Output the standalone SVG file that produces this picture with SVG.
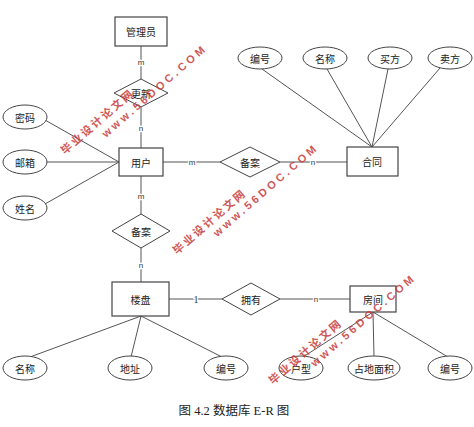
<svg xmlns="http://www.w3.org/2000/svg" width="474" height="427" viewBox="0 0 474 427">
<style>
.ent{fill:#fff;stroke:#444;stroke-width:1.2}
.rel{fill:#fff;stroke:#444;stroke-width:1}
.att{fill:#fff;stroke:#444;stroke-width:1}
.lbl{font-family:"Noto Sans CJK SC","Noto Sans",sans-serif;font-size:10px;fill:#222;text-anchor:middle;dominant-baseline:central}
.card{font-family:"Liberation Sans","DejaVu Sans",sans-serif;font-size:8px;fill:#333;text-anchor:middle;dominant-baseline:central;stroke:#fff;stroke-width:2.5;paint-order:stroke}
.ln{stroke:#555;stroke-width:1;fill:none}
.wm{font-family:"Liberation Sans","Noto Sans CJK SC",sans-serif;font-weight:bold;fill:#c83a3a;opacity:0.85}
.wmc{font-size:11px;letter-spacing:2.3px}
.wme{font-size:11px;letter-spacing:3.2px}
.cap{font-family:"Liberation Serif","Noto Sans CJK SC",serif;font-size:12.5px;fill:#222;text-anchor:middle}
</style>
<rect width="474" height="427" fill="#fff"/>
<g id="connectors">
<line class="ln" x1="141" y1="46" x2="141" y2="79"/>
<line class="ln" x1="141" y1="107" x2="141" y2="148"/>
<line class="ln" x1="45" y1="120" x2="119" y2="162"/>
<line class="ln" x1="47" y1="162" x2="119" y2="162"/>
<line class="ln" x1="45" y1="204" x2="119" y2="162"/>
<line class="ln" x1="163" y1="162" x2="220" y2="162"/>
<line class="ln" x1="280" y1="162" x2="347" y2="162"/>
<line class="ln" x1="262" y1="69" x2="372" y2="147"/>
<line class="ln" x1="327" y1="69" x2="372" y2="147"/>
<line class="ln" x1="388" y1="69" x2="372" y2="147"/>
<line class="ln" x1="440" y1="68" x2="372" y2="147"/>
<line class="ln" x1="141" y1="176" x2="141" y2="214"/>
<line class="ln" x1="141" y1="248" x2="141" y2="282"/>
<line class="ln" x1="169" y1="299" x2="222" y2="299"/>
<line class="ln" x1="280" y1="299" x2="350" y2="299"/>
<line class="ln" x1="141" y1="316" x2="30" y2="357"/>
<line class="ln" x1="141" y1="316" x2="131" y2="357"/>
<line class="ln" x1="141" y1="316" x2="222" y2="357"/>
<line class="ln" x1="373" y1="312" x2="303" y2="357"/>
<line class="ln" x1="373" y1="312" x2="374" y2="357"/>
<line class="ln" x1="373" y1="312" x2="448" y2="357"/>
<text class="card" x="141" y="62">m</text>
<text class="card" x="141" y="128">n</text>
<text class="card" x="192" y="162">m</text>
<text class="card" x="313" y="162">n</text>
<text class="card" x="141" y="196">m</text>
<text class="card" x="141" y="265">n</text>
<text class="card" x="196" y="299" style="font-family:'Liberation Serif',serif;font-size:10px">1</text>
<text class="card" x="316" y="299">n</text>
</g>
<g id="admin"><rect class="ent" x="115" y="17" width="52" height="29"/><text class="lbl" x="141" y="31.5">管理员</text></g>
<g id="update"><polygon class="rel" points="141,79 168,93 141,107 114,93"/><text class="lbl" x="141" y="93">更新</text></g>
<g id="user"><rect class="ent" x="119" y="148" width="44" height="28"/><text class="lbl" x="141" y="162">用户</text></g>
<g id="pwd"><ellipse class="att" cx="25" cy="117" rx="22" ry="12"/><text class="lbl" x="25" y="117">密码</text></g>
<g id="email"><ellipse class="att" cx="25" cy="162" rx="22" ry="12"/><text class="lbl" x="25" y="162">邮箱</text></g>
<g id="uname"><ellipse class="att" cx="25" cy="208" rx="22" ry="12"/><text class="lbl" x="25" y="208">姓名</text></g>
<g id="record1"><polygon class="rel" points="220,162 250,147 280,162 250,177"/><text class="lbl" x="250" y="162">备案</text></g>
<g id="contract"><rect class="ent" x="347" y="147" width="51" height="29"/><text class="lbl" x="372" y="161.5">合同</text></g>
<g id="c_no"><ellipse class="att" cx="260" cy="58" rx="22" ry="11"/><text class="lbl" x="260" y="58">编号</text></g>
<g id="c_name"><ellipse class="att" cx="325" cy="58" rx="22" ry="11"/><text class="lbl" x="325" y="58">名称</text></g>
<g id="c_buyer"><ellipse class="att" cx="390" cy="58" rx="22" ry="11"/><text class="lbl" x="390" y="58">买方</text></g>
<g id="c_seller"><ellipse class="att" cx="450" cy="58" rx="22" ry="11"/><text class="lbl" x="450" y="58">卖方</text></g>
<g id="record2"><polygon class="rel" points="141,214 170,231 141,248 112,231"/><text class="lbl" x="141" y="231">备案</text></g>
<g id="building"><rect class="ent" x="112" y="282" width="57" height="34"/><text class="lbl" x="140.5" y="299">楼盘</text></g>
<g id="own"><polygon class="rel" points="222,299 251,283 280,299 251,315"/><text class="lbl" x="251" y="299">拥有</text></g>
<g id="room"><rect class="ent" x="350" y="286" width="46" height="26"/><text class="lbl" x="373" y="299">房间</text></g>
<g id="b_name"><ellipse class="att" cx="25" cy="368" rx="22" ry="12"/><text class="lbl" x="25" y="368">名称</text></g>
<g id="b_addr"><ellipse class="att" cx="130" cy="368" rx="22" ry="12"/><text class="lbl" x="130" y="368">地址</text></g>
<g id="b_no"><ellipse class="att" cx="226" cy="368" rx="22" ry="12"/><text class="lbl" x="226" y="368">编号</text></g>
<g id="r_type"><ellipse class="att" cx="301" cy="368" rx="22" ry="12"/><text class="lbl" x="301" y="368">户型</text></g>
<g id="r_area"><ellipse class="att" cx="374" cy="368" rx="26" ry="12"/><text class="lbl" x="374" y="368">占地面积</text></g>
<g id="r_no"><ellipse class="att" cx="450" cy="368" rx="22" ry="12"/><text class="lbl" x="450" y="368">编号</text></g>
<text class="cap" x="234" y="415">图 4.2  数据库 E-R 图</text>
<g id="watermarks">
<g transform="translate(65,155) rotate(-41)"><text class="wm wmc" x="0" y="0">毕业设计论文网</text><text class="wm wme" x="42" y="14">www.56DOC.COM</text></g>
<g transform="translate(177,255) rotate(-41)"><text class="wm wmc" x="0" y="0">毕业设计论文网</text><text class="wm wme" x="42" y="13">www.56DOC.COM</text></g>
<g transform="translate(273,385) rotate(-41)"><text class="wm wmc" x="0" y="0">毕业设计论文网</text><text class="wm wme" x="43" y="14">www.56DOC.COM</text></g>
</g>
</svg>
